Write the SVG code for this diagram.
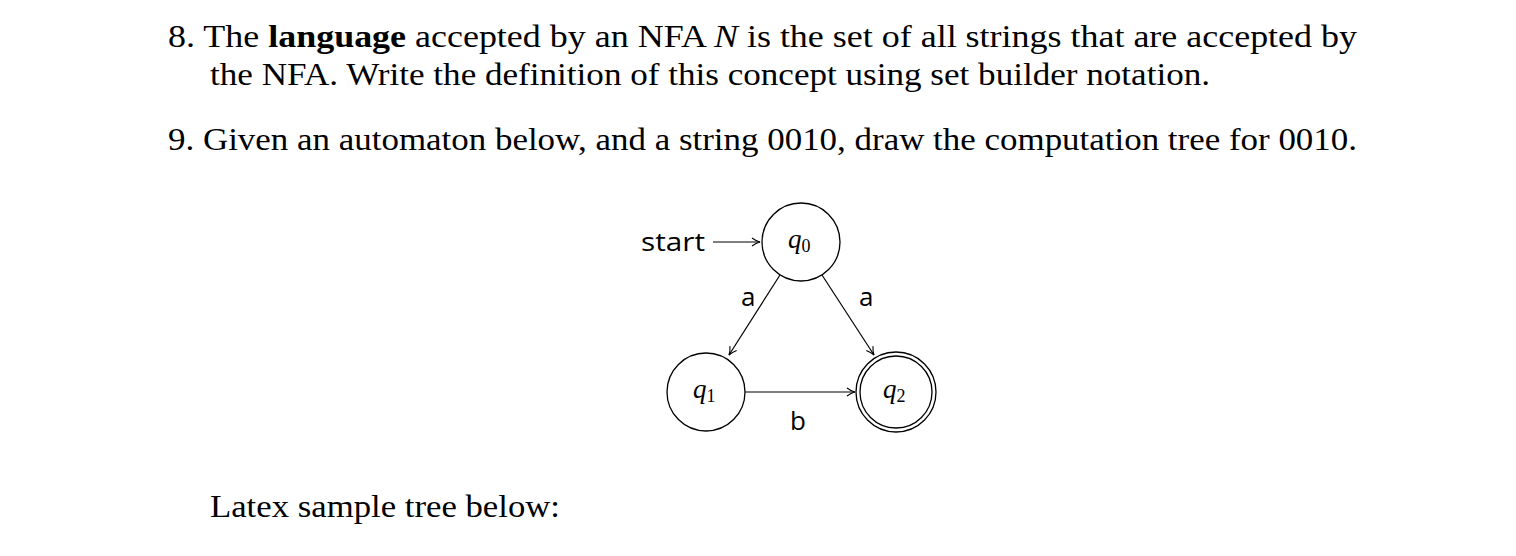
<svg xmlns="http://www.w3.org/2000/svg" width="1516" height="556" viewBox="0 0 1516 556">
<style>
.t{font-family:"Liberation Serif",serif;font-size:32px;fill:#000}
.s{font-family:"Open Sans","Liberation Sans",sans-serif;font-size:26px;fill:#000}
.q{font-family:"Liberation Serif",serif;font-style:italic;font-size:27px;fill:#000}
.sub{font-size:18px;font-style:normal}
.n{fill:#fff;stroke:#000;stroke-width:1.3}
.e{stroke:#000;stroke-width:1.2;fill:none;marker-end:url(#ah)}
</style>
<defs><marker id="ah" markerWidth="10" markerHeight="10" refX="9" refY="5" orient="auto" markerUnits="userSpaceOnUse"><path d="M1,1 Q5,4 9,5 Q5,6 1,9" fill="none" stroke="#000" stroke-width="1.1"/></marker></defs>
<rect width="1516" height="556" fill="#fff"/>
<text class="t" x="168" y="47" textLength="1189" lengthAdjust="spacingAndGlyphs">8. The <tspan font-weight="bold">language</tspan> accepted by an NFA <tspan font-style="italic">N</tspan> is the set of all strings that are accepted by</text>
<text class="t" x="210" y="85" textLength="1000" lengthAdjust="spacingAndGlyphs">the NFA. Write the definition of this concept using set builder notation.</text>
<text class="t" x="168" y="150" textLength="1189" lengthAdjust="spacingAndGlyphs">9. Given an automaton below, and a string 0010, draw the computation tree for 0010.</text>
<text class="t" x="210" y="517" textLength="350" lengthAdjust="spacingAndGlyphs">Latex sample tree below:</text>
<g id="connectors">
<text class="s" x="641" y="251" textLength="64" lengthAdjust="spacingAndGlyphs">start</text>
<line class="e" x1="713" y1="242" x2="760" y2="242"/>
<line class="e" x1="780" y1="275" x2="729" y2="355"/>
<text class="s" x="741" y="306">a</text>
<line class="e" x1="822" y1="275" x2="874" y2="355"/>
<text class="s" x="859" y="306">a</text>
<line class="e" x1="745" y1="392" x2="855" y2="392"/>
<text class="s" x="790" y="430">b</text>
</g>
<g id="q0"><circle class="n" cx="801" cy="242" r="39"/><text class="q" x="788" y="248">q<tspan class="sub" dy="4">0</tspan></text></g>
<g id="q1"><circle class="n" cx="706" cy="392" r="39"/><text class="q" x="693" y="398">q<tspan class="sub" dy="4">1</tspan></text></g>
<g id="q2"><circle class="n" cx="896" cy="392" r="40"/><circle class="n" cx="896" cy="392" r="36"/><text class="q" x="883" y="398">q<tspan class="sub" dy="4">2</tspan></text></g>
</svg>
